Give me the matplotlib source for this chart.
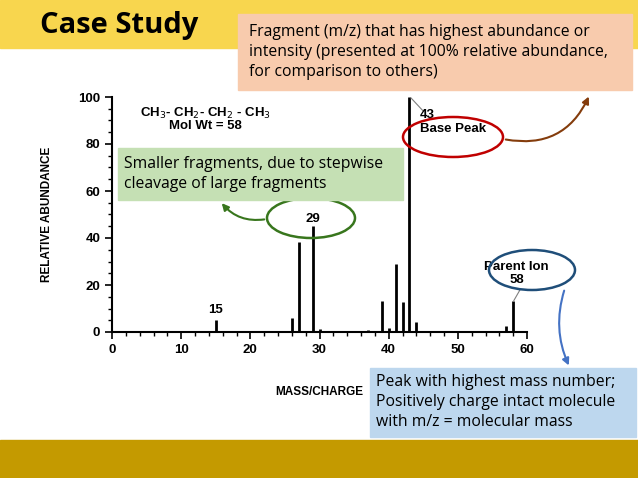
import matplotlib
matplotlib.use("Agg")
import matplotlib.pyplot as plt
from matplotlib.patches import Rectangle, Ellipse, FancyArrowPatch
from matplotlib.ticker import MultipleLocator

mz = [15, 26, 27, 29, 30, 37, 39, 40, 41, 42, 43, 44, 57, 58, 59]
abund = [5.2, 5.8, 38.4, 45, 1.3, 1, 13.4, 1.8, 28.9, 12.8, 100, 4.4, 2.7, 13.4, 0.5]
xticks = [0, 10, 20, 30, 40, 50, 60]
yticks = [0, 20, 40, 60, 80, 100]

W, H = 638, 478
fig = plt.figure(figsize=(W/100, H/100), dpi=100)
fig.patch.set_facecolor("white")
plt.rcParams["font.family"] = ["Liberation Sans", "DejaVu Sans"]

def fx(x): return x / W
def fy(y): return 1 - y / H

fig.patches.append(Rectangle((0, fy(48)), 1, 48/H, transform=fig.transFigure, color="#F8D64E", zorder=0))
fig.patches.append(Rectangle((0, 0), 1, 38/H, transform=fig.transFigure, color="#C49A00", zorder=0))
fig.text(fx(40), fy(25), "Case Study", fontsize=21, fontweight="bold", family="Open Sans", va="center", ha="left")

ax = fig.add_axes([fx(112), fy(332), (527-112)/W, (332-97)/H])
ax.vlines(mz, 0, abund, color="black", lw=2)
ax.set_xlim(0, 60)
ax.set_ylim(0, 100)
ax.set_xticks(xticks)
ax.set_yticks(yticks)
ax.xaxis.set_minor_locator(MultipleLocator(2))
ax.yaxis.set_minor_locator(MultipleLocator(5))
for lab in ax.get_xticklabels() + ax.get_yticklabels():
    lab.set_fontweight("bold")
    lab.set_fontsize(9.5)
ax.tick_params(which="major", length=5, width=1.2)
ax.tick_params(which="minor", length=3, width=1)
ax.spines["top"].set_visible(False)
ax.spines["right"].set_visible(False)
for s in ["left", "bottom"]:
    ax.spines[s].set_linewidth(1.5)
ax.patch.set_alpha(0)
ax.set_ylabel("RELATIVE ABUNDANCE", fontweight="bold", fontsize=8.5, labelpad=18)
ax.set_xlabel("MASS/CHARGE", fontweight="bold", fontsize=8.5, x=0.5, labelpad=22)

ax.text(13.5, 93, "CH$_3$- CH$_2$- CH$_2$ - CH$_3$", fontsize=9.5, fontweight="bold", ha="center", va="center")
ax.text(13.5, 87.5, "Mol Wt = 58", fontsize=9.5, fontweight="bold", ha="center", va="center")
ax.text(15, 8, "15", fontsize=9.5, fontweight="bold", ha="center")
ax.text(29, 47, "29", fontsize=9.5, fontweight="bold", ha="center")
ax.text(44.5, 89.5, "43\nBase Peak", fontsize=9.5, fontweight="bold", ha="left", va="center")
ax.text(58.5, 25, "Parent Ion\n58", fontsize=9.5, fontweight="bold", ha="center", va="center", linespacing=1.1)
ax.plot([43.1, 45], [100, 94], color="gray", lw=0.8)
ax.plot([58.1, 59], [13.4, 18], color="gray", lw=0.8)

fig.patches.append(Ellipse((fx(453), fy(137)), 100/W, 40/H, transform=fig.transFigure, fill=False, ec="#C00000", lw=1.8))
fig.patches.append(Ellipse((fx(311), fy(218)), 88/W, 40/H, transform=fig.transFigure, fill=False, ec="#38761D", lw=1.8))
fig.patches.append(Ellipse((fx(532), fy(270)), 86/W, 40/H, transform=fig.transFigure, fill=False, ec="#1F4E79", lw=1.8))

fig.patches.append(Rectangle((fx(238), fy(90)), 394/W, 76/H, transform=fig.transFigure, color="#F8CBAD", zorder=3))
fig.text(fx(249), fy(52), "Fragment (m/z) that has highest abundance or\nintensity (presented at 100% relative abundance,\nfor comparison to others)",
         fontsize=11.3, family="Open Sans", va="center", ha="left", linespacing=1.35, zorder=4)
fig.patches.append(Rectangle((fx(118), fy(200)), 285/W, 52/H, transform=fig.transFigure, color="#C5E0B4", zorder=3))
fig.text(fx(124), fy(174), "Smaller fragments, due to stepwise\ncleavage of large fragments",
         fontsize=11.3, family="Open Sans", va="center", ha="left", linespacing=1.35, zorder=4)
fig.patches.append(Rectangle((fx(370), fy(437)), 266/W, 69/H, transform=fig.transFigure, color="#BDD7EE", zorder=3))
fig.text(fx(376), fy(402), "Peak with highest mass number;\nPositively charge intact molecule\nwith m/z = molecular mass",
         fontsize=11.3, family="Open Sans", va="center", ha="left", linespacing=1.35, zorder=4)

fig.patches.append(FancyArrowPatch((fx(503), fy(139)), (fx(590), fy(94)), transform=fig.transFigure,
                                   connectionstyle="arc3,rad=0.4", arrowstyle="-|>", mutation_scale=10, color="#843C0C", lw=1.5, zorder=5))
fig.patches.append(FancyArrowPatch((fx(267), fy(219)), (fx(220), fy(201)), transform=fig.transFigure,
                                   connectionstyle="arc3,rad=-0.3", arrowstyle="-|>", mutation_scale=10, color="#38761D", lw=1.5, zorder=5))
fig.patches.append(FancyArrowPatch((fx(565), fy(288)), (fx(570), fy(368)), transform=fig.transFigure,
                                   connectionstyle="arc3,rad=0.2", arrowstyle="-|>", mutation_scale=10, color="#4472C4", lw=1.5, zorder=5))

fig.savefig("out.png", dpi=100)
